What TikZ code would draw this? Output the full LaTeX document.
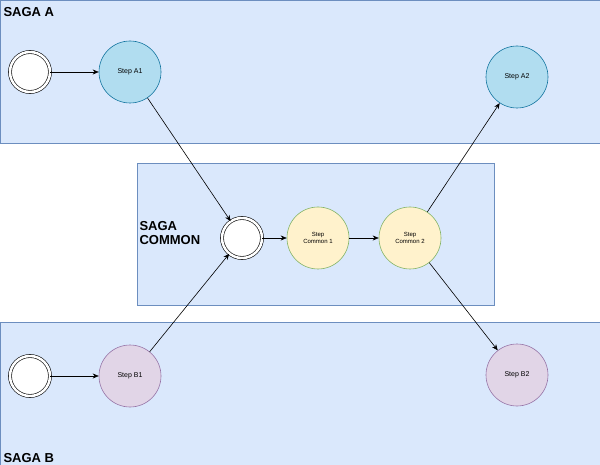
\documentclass[tikz,border=0pt]{standalone}
\usepackage{fontspec}
\setmainfont{Liberation Sans}
\usetikzlibrary{arrows.meta}
\definecolor{saga}{HTML}{DAE8FC}
\definecolor{sagaline}{HTML}{6C8EBF}
\definecolor{blueF}{HTML}{B1DDF0}
\definecolor{blueL}{HTML}{10739E}
\definecolor{yelF}{HTML}{FFF2CC}
\definecolor{yelL}{HTML}{82B366}
\definecolor{purF}{HTML}{E1D5E7}
\definecolor{purL}{HTML}{9673A6}
\begin{document}
\begin{tikzpicture}[x=1pt,y=-1pt,
  box/.style={draw=sagaline,fill=saga,line width=0.6pt},
  title/.style={font=\fontsize{13}{14}\selectfont\bfseries,align=left},
  start/.style={circle,draw=black,fill=white,minimum size=46pt,inner sep=0pt,line width=0.6pt,double=white,double distance=2.5pt},
  stepnode/.style={circle,minimum size=62pt,inner sep=0pt,align=center,font=\fontsize{7}{8.5}\selectfont,line width=0.6pt},
  sa/.style={stepnode,fill=blueF,draw=blueL},
  sc/.style={stepnode,fill=yelF,draw=yelL,font=\fontsize{6}{7.5}\selectfont},
  sb/.style={stepnode,fill=purF,draw=purL},
  arr/.style={-{Stealth[length=6pt,width=5pt]},line width=0.6pt}]
\useasboundingbox (0,0) rectangle (600,465);
\draw[box] (0,0) rectangle (600,143);
\draw[box] (137,163) rectangle (494,305);
\draw[box] (0,322) rectangle (600,465);
\node[title,anchor=north west] (ta) at (0,4) {SAGA A};
\node[title,anchor=west] (tc) at (136,233) {SAGA\\COMMON};
\node[title,anchor=south west] (tb) at (0,466) {SAGA B};
\node[start,minimum size=40pt] (sA) at (30,72) {};
\node[sa] (a1) at (130,72) {Step A1};
\node[sa] (a2) at (517,77) {Step A2};
\node[start,minimum size=40pt] (sC) at (242,238) {};
\node[sc] (c1) at (318,238) {Step\\Common 1};
\node[sc] (c2) at (410,238) {Step\\Common 2};
\node[start,minimum size=40pt] (sB) at (30,376) {};
\node[sb] (b1) at (130,376) {Step B1};
\node[sb] (b2) at (517,375) {Step B2};
\draw[arr] (sA) -- (a1);
\draw[arr] (sB) -- (b1);
\draw[arr] (a1) -- (sC);
\draw[arr] (b1) -- (sC);
\draw[arr] (sC) -- (c1);
\draw[arr] (c1) -- (c2);
\draw[arr] (c2) -- (a2);
\draw[arr] (c2) -- (b2);
\end{tikzpicture}
\end{document}
